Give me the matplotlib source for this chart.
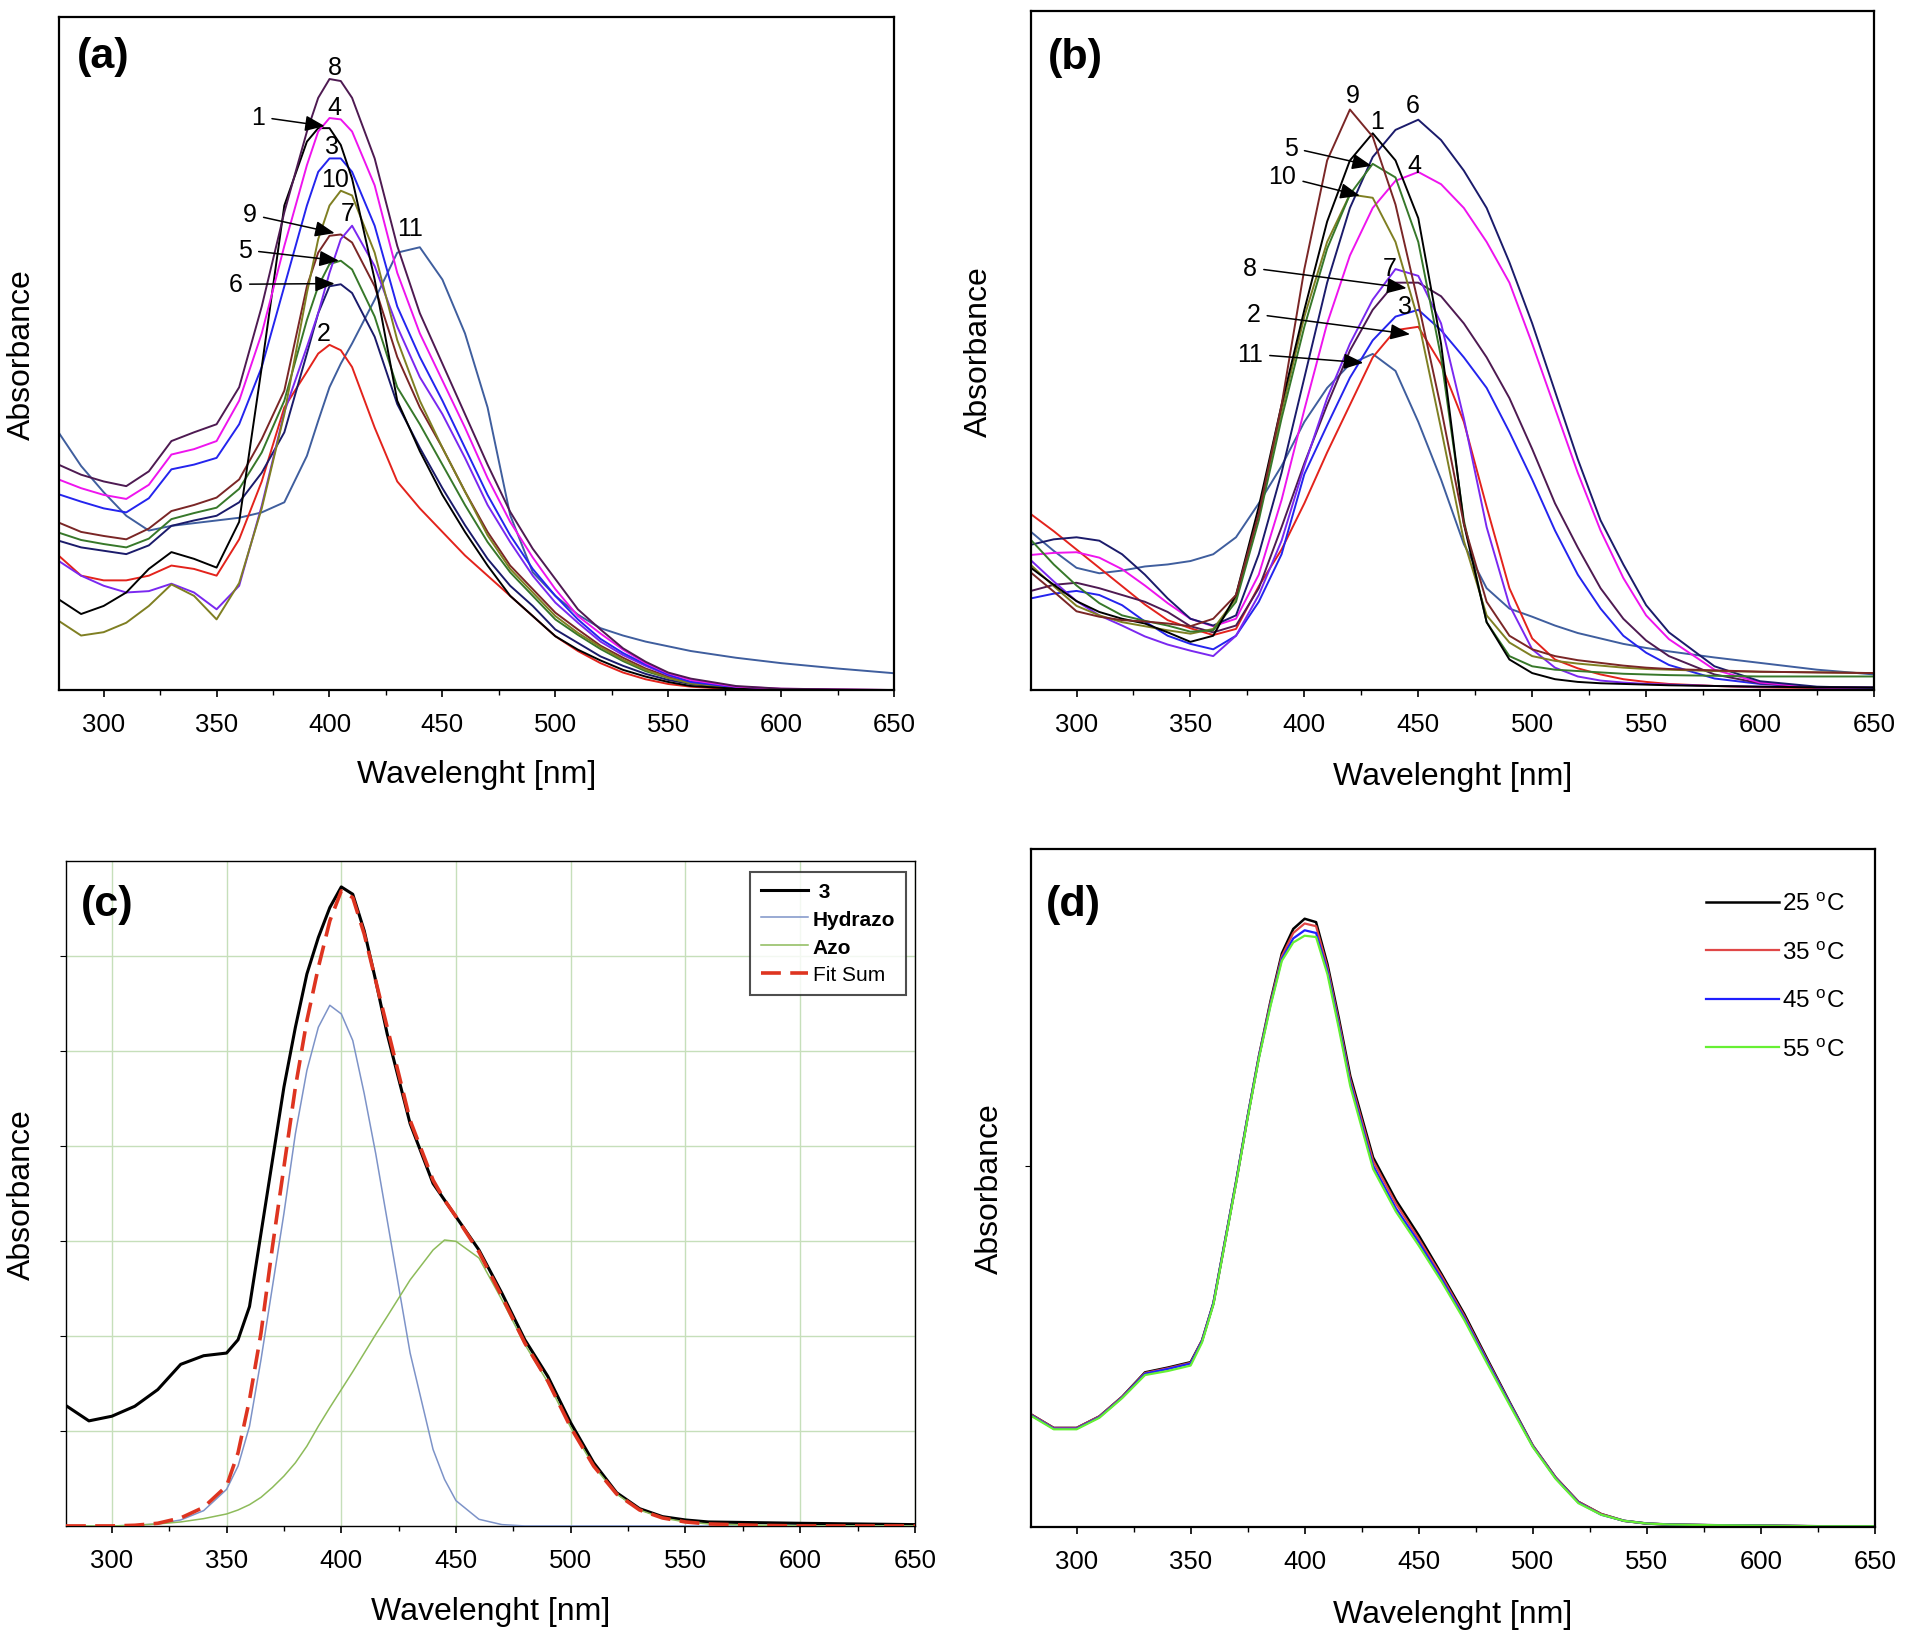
import matplotlib
matplotlib.use('Agg')
import matplotlib.pyplot as plt
from matplotlib.ticker import MultipleLocator

plt.rcParams['font.family'] = ['Liberation Sans', 'DejaVu Sans']
plt.rcParams['mathtext.fontset'] = 'custom'
plt.rcParams['mathtext.rm'] = 'Liberation Sans'

# ---------------- data (absorbance in % of axis height) ----------------
WL_A = [280, 290, 300, 310, 320, 330, 340, 350, 360, 370, 380, 390, 395, 400, 405, 410, 420, 430,
        440, 450, 460, 470, 480, 490, 500, 510, 520, 530, 540, 550, 560, 580, 600, 625, 650]

A1 = [13.5, 11.3, 12.5, 14.5, 18, 20.5, 19.5, 18.2, 25, 48, 72, 81.5, 83.5, 83.5, 81, 76, 61, 43,
      35.5, 29, 23.5, 18.5, 14, 11, 8, 6, 4.4, 3, 2, 1.2, 0.6, 0.2, 0, 0, 0]
A2 = [20, 17, 16.3, 16.3, 17, 18.5, 18, 17, 22.4, 31, 42, 47.3, 50, 51.3, 50.5, 48, 39, 31,
      27, 23.5, 20, 17, 14, 11, 8, 5.8, 4, 2.6, 1.6, 0.9, 0.5, 0.1, 0, 0, 0]
A3 = [29.1, 28, 27, 26.4, 28.5, 32.8, 33.5, 34.5, 39.5, 48, 60, 72, 77, 79, 79, 77, 69, 57,
      49.5, 43, 36, 29, 23, 18, 14, 10.5, 7.6, 5.5, 3.8, 2.3, 1.2, 0.4, 0.1, 0, 0]
A4 = [31.3, 30, 29, 28.4, 30.5, 35, 35.8, 37, 43, 53, 66, 78, 83, 85, 84.8, 83, 75, 62,
      53, 46, 39, 31.5, 25, 19.7, 15, 11, 8.4, 6, 4, 2.5, 1.5, 0.5, 0.2, 0.1, 0]
A5 = [23.4, 22.3, 21.7, 21.2, 22.5, 25.4, 26.3, 27.1, 29.9, 35.3, 43, 55, 60, 63.3, 63.8, 62.5, 55.5, 45,
      39.5, 33.5, 27.5, 22, 17.5, 14, 10.5, 8.2, 6.1, 4.3, 2.8, 1.8, 1, 0.3, 0.1, 0, 0]
A6 = [22.2, 21.2, 20.7, 20.2, 21.5, 24.4, 25.2, 25.9, 27.9, 32.3, 38.3, 50, 56, 60, 60.3, 59, 52.5, 42.5,
      36, 30, 24.5, 19.5, 15.5, 12.5, 9, 7, 5, 3.6, 2.4, 1.5, 0.9, 0.3, 0.1, 0, 0]
A7 = [19.2, 17, 15.5, 14.5, 14.7, 15.8, 14.5, 12, 15.5, 27.4, 41.3, 51, 56, 62, 67, 69, 63, 54,
      46.5, 41, 34.5, 27.5, 22, 17, 13, 10, 7.2, 5.2, 3.6, 2.2, 1.2, 0.4, 0.1, 0, 0]
A8 = [33.5, 32, 31, 30.3, 32.5, 37, 38.3, 39.5, 45, 57, 71, 83, 88, 90.8, 90.5, 88, 79, 66,
      56, 48.5, 41, 33.5, 26.5, 21, 16.5, 12, 9, 6.2, 4.2, 2.6, 1.7, 0.6, 0.2, 0.1, 0]
A9 = [24.9, 23.5, 22.9, 22.4, 24, 26.6, 27.5, 28.6, 31.3, 37.3, 44.5, 60, 65, 67.5, 67.7, 66.5, 60, 49.5,
      42, 36, 29.5, 23.5, 18.5, 15, 11.5, 9, 6.6, 4.8, 3.2, 2, 1.2, 0.4, 0.1, 0, 0]
A10 = [10.3, 8.1, 8.6, 10, 12.5, 15.7, 14, 10.5, 15.9, 27, 41, 59, 67, 72, 74.2, 73.5, 65, 52,
       43, 36, 29.5, 23, 18, 14.5, 11, 8.5, 6.4, 4.5, 3, 1.8, 1, 0.3, 0.1, 0, 0]
A11 = [38.3, 33.3, 29.4, 25.9, 23.7, 24.4, 24.8, 25.2, 25.6, 26.4, 27.9, 34.8, 40, 45, 48.5, 51.5, 58, 65,
       65.8, 61, 53, 42, 26, 17.5, 14, 11.2, 9.2, 8.1, 7.2, 6.5, 5.8, 4.8, 4.0, 3.2, 2.5]

WL_B = [280, 290, 300, 310, 320, 330, 340, 350, 360, 370, 380, 390, 400, 410, 420, 430, 440,
        450, 460, 470, 480, 490, 500, 510, 520, 530, 540, 550, 560, 580, 600, 625, 650]

B1 = [18, 15.5, 13.1, 11.5, 10.5, 9.8, 8.5, 7.1, 8, 14, 27, 42, 56, 69, 78, 82, 78,
      69.5, 51, 24.5, 10, 4.5, 2.5, 1.6, 1.2, 1.0, 0.9, 0.8, 0.7, 0.6, 0.5, 0.4, 0.4]
B2 = [25.9, 23.4, 20.7, 18, 15.3, 12.6, 10.3, 9.1, 8.1, 9, 15.3, 20.7, 27.5, 35, 42, 49, 53,
      53.5, 48, 39.5, 27, 15, 7.6, 4.5, 3.2, 2.3, 1.6, 1.2, 0.9, 0.6, 0.4, 0.3, 0.3]
B3 = [13.5, 14.2, 14.6, 14, 12.5, 10.1, 8, 6.8, 6, 8, 13, 20, 31.8, 39, 46, 51.5, 55,
      56, 53, 49, 44.5, 38, 31, 23.5, 17, 12, 8, 5.5, 3.7, 1.7, 0.9, 0.4, 0.3]
B4 = [19.9, 20.2, 20.3, 19.5, 17.8, 15.4, 12.8, 10.5, 9.4, 10.5, 17, 28, 41.3, 54, 64, 71, 75,
      76.3, 74.5, 71, 66, 60, 51, 41.5, 32, 23.5, 16.5, 11, 7.5, 3, 1.1, 0.4, 0.3]
B5 = [22.1, 18.5, 15.4, 12.8, 11, 10.2, 9.5, 8.6, 8.8, 13, 25, 40, 53.5, 65, 73, 77.5, 75.5,
      66, 49, 25, 10, 5, 3.5, 3, 2.8, 2.6, 2.4, 2.3, 2.2, 2.1, 2.0, 2.0, 2.0]
B6 = [21.4, 22.2, 22.5, 22, 20, 17, 13.5, 10.5, 9.5, 11, 20, 32, 46, 60, 71, 78.5, 82.5,
      84, 81, 76.5, 71, 63, 54, 44, 34, 25, 18.5, 12.5, 8.5, 3.5, 1.3, 0.5, 0.3]
B7 = [19.1, 16, 13.1, 11, 9.5, 7.9, 6.7, 5.8, 5, 8, 14, 22, 33, 43, 51, 57.5, 62,
      61, 54, 40, 24, 12.5, 6, 3.3, 2.0, 1.4, 1.1, 0.9, 0.8, 0.6, 0.5, 0.4, 0.4]
B8 = [14.6, 15.5, 15.8, 15, 14, 13, 11.5, 9.4, 8.5, 9.5, 15, 24, 33.4, 42, 50, 56, 60,
      60, 58, 54, 49, 43, 35.5, 27.5, 21, 15, 10.5, 7.3, 5, 2.3, 1.0, 0.4, 0.3]
B9 = [17.3, 14.5, 11.6, 10.8, 10.3, 10.1, 9.8, 9.4, 10.5, 14, 26, 42, 62, 78, 85.5, 81.5, 71.5,
      57, 41.5, 24.5, 13, 8, 6, 5, 4.4, 4, 3.6, 3.3, 3.1, 2.9, 2.7, 2.6, 2.5]
B10 = [18.4, 15.3, 12.4, 11, 10, 9.4, 8.8, 8.3, 9, 13.5, 26, 41, 55, 66, 73, 72.5, 66,
       54.5, 38.5, 22, 11, 7, 5, 4.3, 3.9, 3.6, 3.3, 3.1, 3, 2.8, 2.7, 2.6, 2.5]
B11 = [23.3, 20.5, 18, 17.2, 17.6, 18.2, 18.5, 19, 20, 22.5, 27.5, 33, 39.5, 44.5, 48, 49.5, 47,
       39.5, 31, 21.5, 15, 12, 10.8, 9.5, 8.4, 7.6, 6.8, 6.2, 5.7, 4.8, 4, 3, 2.3]

WL_C = [280, 290, 300, 310, 320, 330, 340, 350, 355, 360, 365, 370, 375, 380, 385, 390, 395, 400,
        405, 410, 415, 420, 430, 440, 445, 450, 460, 470, 480, 490, 500, 510, 520, 530, 540, 550,
        560, 580, 600, 625, 650]

C_MEAS = [18.1, 15.8, 16.5, 18, 20.5, 24.3, 25.6, 26, 28, 33, 44, 55, 66, 75, 83, 88.5, 93, 96.1,
          95, 89.5, 82, 74, 60.5, 51.5, 49, 46.5, 41.5, 35, 28, 22.5, 15.5, 9.5, 5, 2.6, 1.4, 0.9,
          0.6, 0.5, 0.4, 0.3, 0.2]
C_HYDRAZO = [0, 0, 0, 0.1, 0.3, 0.9, 2.3, 5.5, 9, 15, 25, 36, 47, 59, 68.5, 75, 78.3, 77,
             73, 65, 56, 46, 26, 11.5, 7, 3.8, 1, 0.2, 0, 0, 0, 0, 0, 0, 0, 0,
             0, 0, 0, 0, 0]
C_AZO = [0, 0, 0, 0.1, 0.3, 0.6, 1.1, 1.8, 2.4, 3.2, 4.3, 5.8, 7.5, 9.5, 12, 15, 17.8, 20.5,
         23.2, 26, 28.8, 31.5, 37, 41.5, 43, 42.8, 40.3, 34, 27.3, 21.6, 14.8, 9, 4.8, 2.4, 1.2, 0.6,
         0.3, 0.1, 0, 0, 0]
C_FIT = [0, 0, 0, 0.1, 0.4, 1.2, 2.8, 6, 11, 19, 29, 42, 54, 66, 76, 84, 91, 95.5,
         94.5, 89, 82, 75, 61, 52, 49, 46.5, 41.2, 34.5, 27.5, 21.8, 14.8, 9, 4.8, 2.4, 1.2, 0.6,
         0.3, 0.1, 0, 0, 0]

WL_D = [280, 290, 300, 310, 320, 330, 340, 350, 355, 360, 365, 370, 375, 380, 385, 390, 395, 400,
        405, 410, 415, 420, 430, 440, 450, 460, 470, 480, 490, 500, 510, 520, 530, 540, 550, 560,
        580, 600, 625, 650]
D_25 = [16.6, 14.6, 14.6, 16.3, 19.2, 22.8, 23.5, 24.3, 27.5, 33, 42, 51, 60.5, 69.5, 77.5, 84.6, 88.2, 89.7,
        89.2, 83, 75, 66.5, 54.5, 48.2, 43, 37.3, 31.4, 24.8, 18.3, 12, 7.3, 3.7, 1.9, 0.9, 0.5, 0.35,
        0.25, 0.2, 0.1, 0.1]
D_35 = [16.6, 14.6, 14.6, 16.3, 19.2, 22.7, 23.4, 24.2, 27.5, 33, 42, 51, 60.5, 69.5, 77.3, 84.2, 87.6, 89,
        88.6, 82.5, 74.5, 66, 54, 47.7, 42.5, 37, 31.1, 24.6, 18.2, 12, 7.3, 3.7, 1.9, 0.9, 0.5, 0.35,
        0.25, 0.2, 0.1, 0.1]
D_45 = [16.5, 14.5, 14.5, 16.2, 19.1, 22.6, 23.3, 24.1, 27.4, 33, 42, 51, 60.5, 69.4, 77, 83.8, 86.8, 88,
        87.6, 82, 74, 65.5, 53.3, 47, 42, 36.6, 30.8, 24.4, 18.1, 11.9, 7.2, 3.6, 1.8, 0.9, 0.5, 0.35,
        0.25, 0.2, 0.1, 0.1]
D_55 = [16.4, 14.4, 14.4, 16.1, 19, 22.4, 23.0, 23.8, 27.2, 32.8, 41.8, 50.8, 60.3, 69.2, 76.8, 83.5, 86.2, 87.2,
        87, 81.5, 73.5, 65, 52.8, 46.5, 41.5, 36.2, 30.5, 24.1, 17.9, 11.8, 7.1, 3.5, 1.8, 0.9, 0.5, 0.35,
        0.25, 0.2, 0.1, 0.1]

COLORS = {1: '#000000', 2: '#e3231c', 3: '#2424ee', 4: '#ee14ee', 5: '#37782a', 6: '#1b1b6b',
          7: '#7a28f0', 8: '#4e1a52', 9: '#7a2626', 10: '#7f7f22', 11: '#3f5e9e'}

fig = plt.figure(figsize=(19.12, 16.31), dpi=100)

ax_a = fig.add_axes([0.0306, 0.5763, 0.4370, 0.4126])
ax_b = fig.add_axes([0.5392, 0.5763, 0.4409, 0.4163])
ax_c = fig.add_axes([0.0345, 0.0638, 0.4440, 0.4077])
ax_d = fig.add_axes([0.5392, 0.0632, 0.4414, 0.4157])


def style(ax, letter, lpos, xlab_y, ylab_x, spine_lw=1.6):
    ax.set_xlim(280, 650)
    ax.set_ylim(0, 100)
    ax.xaxis.set_major_locator(MultipleLocator(50))
    ax.xaxis.set_minor_locator(MultipleLocator(25))
    ax.tick_params(axis='x', which='major', direction='out', length=5, width=1.2,
                   labelsize=18.5, pad=11)
    ax.tick_params(axis='x', which='minor', direction='out', length=3.5, width=1.0)
    ax.set_yticks([])
    for s in ax.spines.values():
        s.set_linewidth(spine_lw)
    ax.set_xlabel('Wavelenght [nm]', fontsize=23)
    ax.xaxis.set_label_coords(0.5, xlab_y)
    ax.xaxis.label.set_verticalalignment('center')
    ax.set_ylabel('Absorbance', fontsize=23)
    ax.yaxis.set_label_coords(ylab_x, 0.5)
    ax.yaxis.label.set_verticalalignment('center')
    ax.text(lpos[0], lpos[1], letter, transform=ax.transAxes, fontsize=31,
            fontweight='bold', ha='center', va='center')


arrow = dict(arrowstyle='-|>,head_length=0.6,head_width=0.24', color='k', lw=1.1,
             shrinkA=3, shrinkB=0, mutation_scale=20)
NUM_FS = 18

# ---------------- (a) ----------------
for n, y in [(11, A11), (2, A2), (6, A6), (5, A5), (9, A9), (7, A7), (10, A10),
             (3, A3), (1, A1), (4, A4), (8, A8)]:
    ax_a.plot(WL_A, y, color=COLORS[n], lw=1.4)
style(ax_a, '(a)', (0.054, 0.942), -0.124, -0.044)

for t, x, y in [('8', 402.3, 92.6), ('4', 402.3, 86.7), ('3', 401.1, 80.8), ('10', 402.3, 75.9),
                ('7', 408.2, 70.9), ('2', 397.4, 53.1), ('11', 435.5, 68.6)]:
    ax_a.text(x, y, t, fontsize=NUM_FS, ha='center', va='center')
for t, head, txt in [('1', (397.9, 83.8), (368.4, 85.2)), ('9', (402.3, 67.9), (364.7, 70.7)),
                     ('5', (404.2, 63.8), (362.5, 65.4)), ('6', (402.3, 60.4), (358.5, 60.3))]:
    ax_a.annotate(t, xy=head, xytext=txt, fontsize=NUM_FS, ha='center', va='center',
                  arrowprops=arrow)

# ---------------- (b) ----------------
for n, y in [(11, B11), (2, B2), (3, B3), (8, B8), (7, B7), (4, B4), (6, B6),
             (10, B10), (5, B5), (1, B1), (9, B9)]:
    ax_b.plot(WL_B, y, color=COLORS[n], lw=1.4)
style(ax_b, '(b)', (0.053, 0.933), -0.126, -0.062)

for t, x, y in [('9', 421.2, 87.6), ('1', 431.8, 83.8), ('6', 447.6, 86.2), ('4', 448.1, 77.4),
                ('7', 437.6, 62.2), ('3', 444.2, 56.6)]:
    ax_b.text(x, y, t, fontsize=NUM_FS, ha='center', va='center')
for t, head, txt in [('5', (429.6, 77.2), (394.0, 79.9)), ('10', (424.4, 72.8), (390.3, 75.7)),
                     ('8', (444.9, 59.2), (376.1, 62.2)), ('2', (446.4, 52.4), (377.6, 55.4)),
                     ('11', (425.9, 48.2), (376.1, 49.5))]:
    ax_b.annotate(t, xy=head, xytext=txt, fontsize=NUM_FS, ha='center', va='center',
                  arrowprops=arrow)

# ---------------- (c) ----------------
ax_c.plot(WL_C, C_MEAS, color='black', lw=2.2, label=' 3', zorder=3)
ax_c.plot(WL_C, C_HYDRAZO, color='#7d93c8', lw=1.1, label='Hydrazo', zorder=3)
ax_c.plot(WL_C, C_AZO, color='#8dbb5a', lw=1.1, label='Azo', zorder=3)
ax_c.plot(WL_C, C_FIT, color='#de3420', lw=2.6, ls=(0, (5.5, 2.6)), label='Fit Sum', zorder=4)
style(ax_c, '(c)', (0.049, 0.936), -0.128, -0.052, spine_lw=1.0)
ax_c.set_yticks([100 / 7 * k for k in range(1, 7)])
ax_c.tick_params(axis='y', direction='out', length=4, labelleft=False)
ax_c.grid(True, which='major', color='#c6dfba', lw=1.0, zorder=0)
leg = ax_c.legend(loc='upper right', bbox_to_anchor=(0.989, 0.984), borderaxespad=0,
                  fontsize=15, frameon=True, fancybox=False, edgecolor='#222222',
                  handlelength=2.3, handletextpad=0.2, labelspacing=0.42, borderpad=0.5)
leg.get_frame().set_linewidth(1.5)
for t in leg.get_texts()[:3]:
    t.set_fontweight('bold')

# ---------------- (d) ----------------
ax_d.plot(WL_D, D_25, color='black', lw=1.8, label='25 $^{\\mathregular{o}}$C')
ax_d.plot(WL_D, D_35, color='#e04848', lw=1.6, label='35 $^{\\mathregular{o}}$C')
ax_d.plot(WL_D, D_45, color='#1f1fff', lw=1.6, label='45 $^{\\mathregular{o}}$C')
ax_d.plot(WL_D, D_55, color='#66f033', lw=1.6, label='55 $^{\\mathregular{o}}$C')
style(ax_d, '(d)', (0.05, 0.919), -0.129, -0.049)
ax_d.set_yticks([53.2])
ax_d.tick_params(axis='y', direction='out', length=4, labelleft=False)
ax_d.legend(loc='upper right', bbox_to_anchor=(0.976, 0.95), borderaxespad=0, fontsize=17.5,
            frameon=False, handlelength=3.0, handletextpad=0.15, labelspacing=1.05)

fig.savefig('out.png', dpi=100)
